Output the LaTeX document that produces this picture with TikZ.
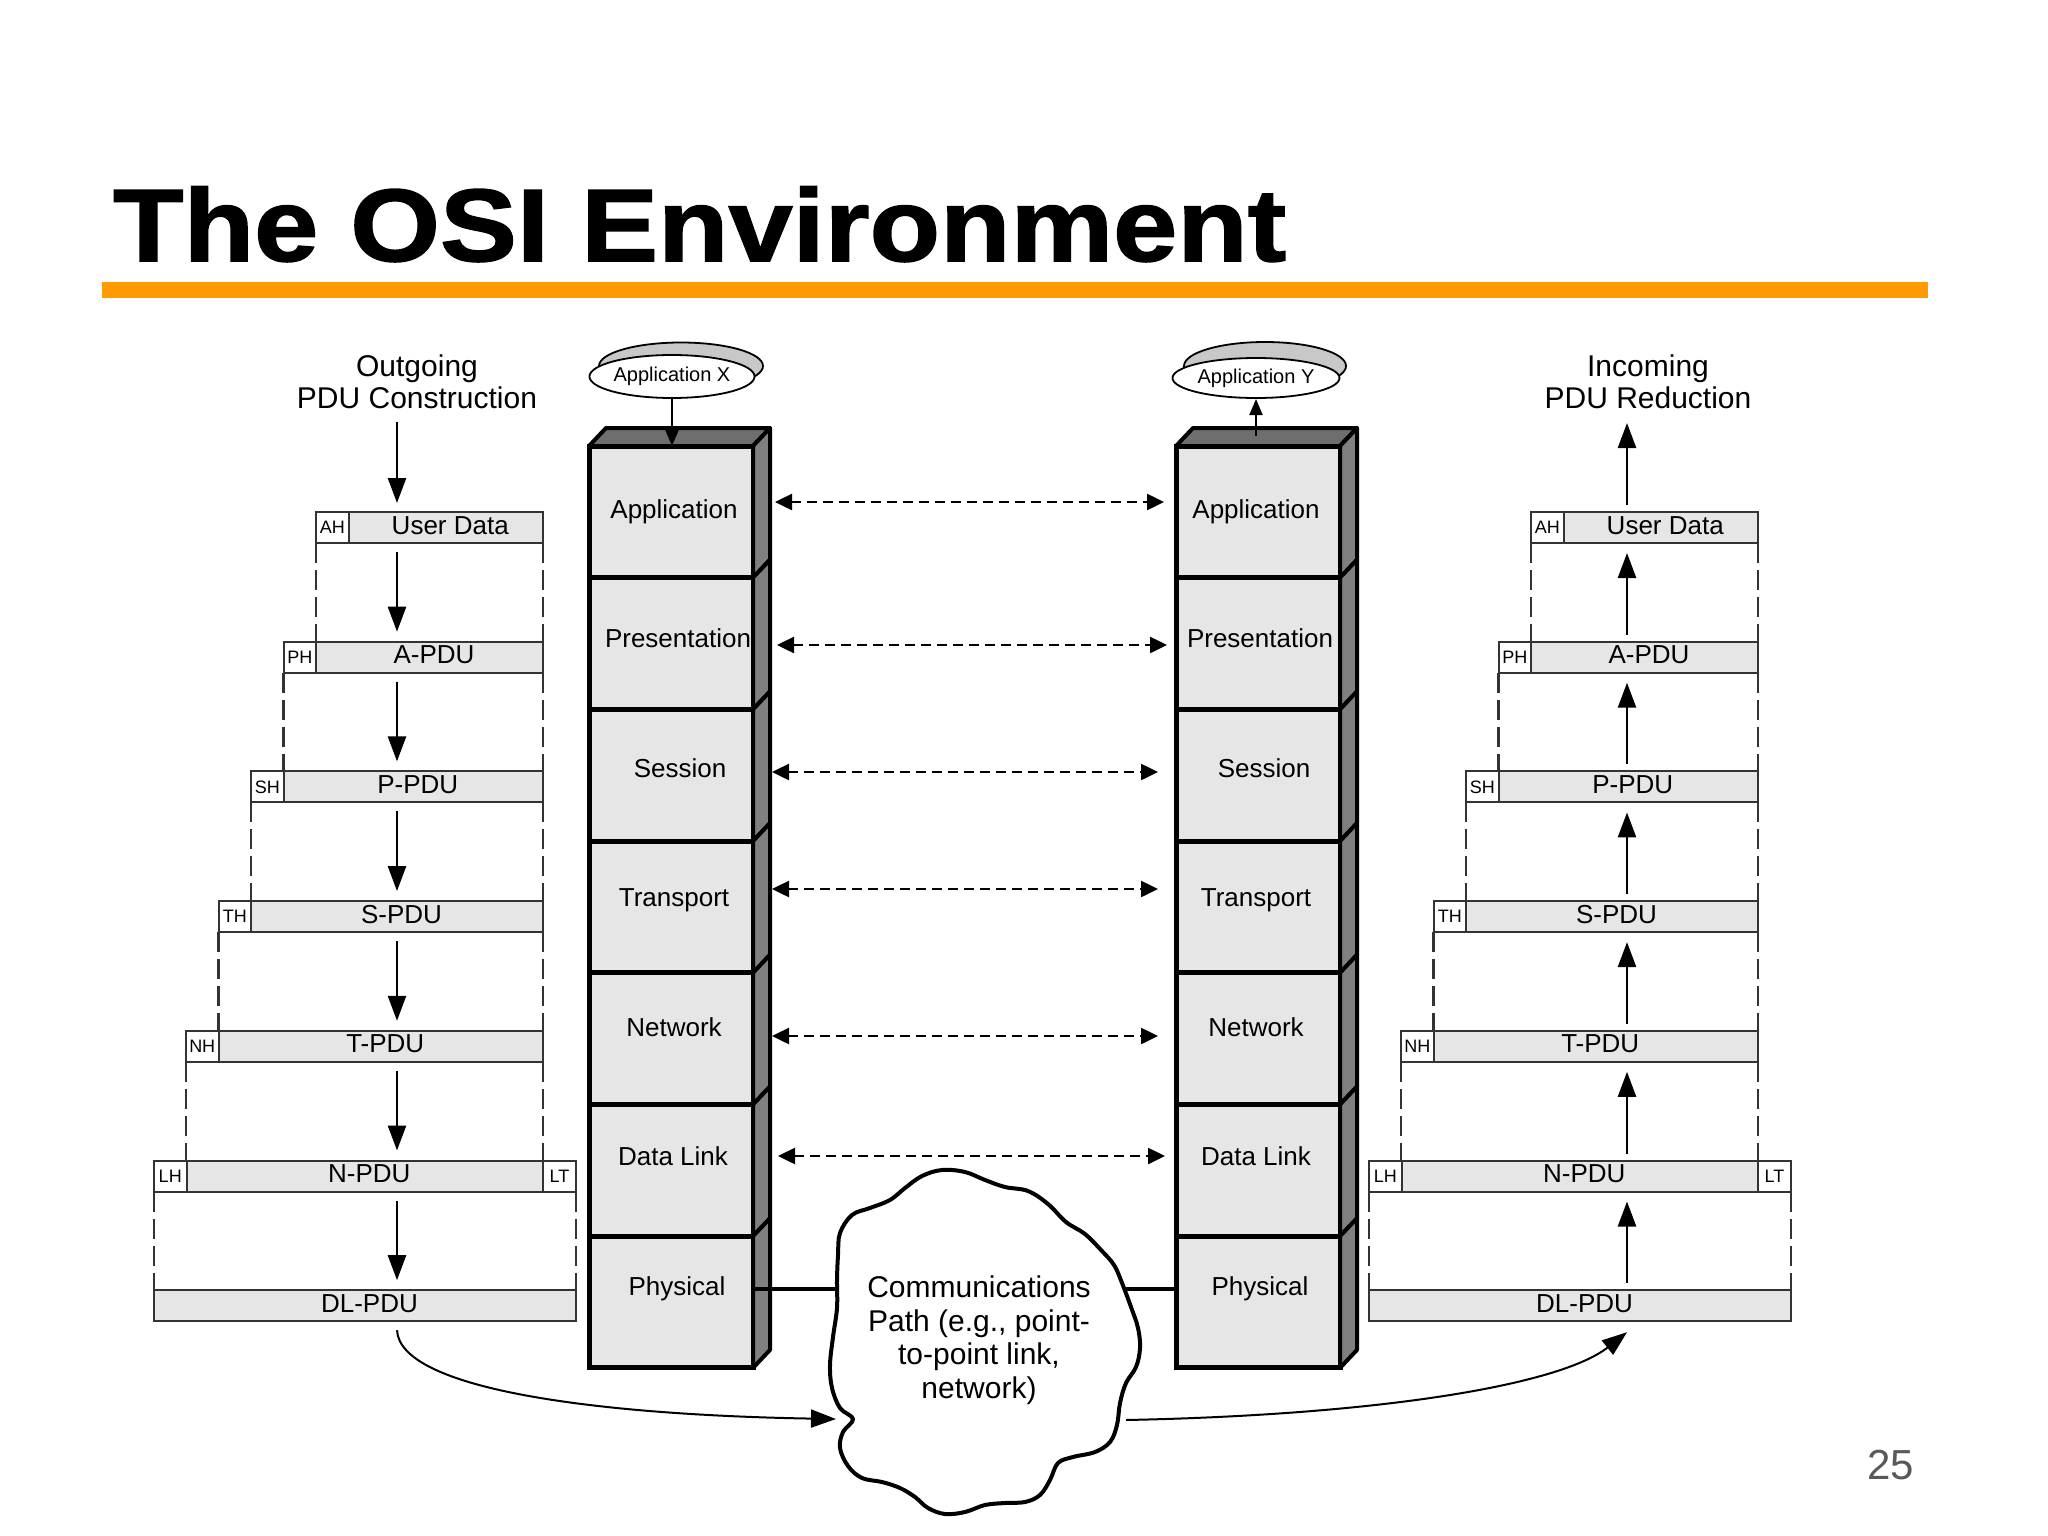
\documentclass[tikz,border=0pt]{standalone}
\usepackage{fontspec}
\setmainfont{Liberation Sans}
\newfontfamily\titlefont[FakeStretch=1.12,BoldFeatures={FakeBold=1.5}]{Liberation Sans}
\usetikzlibrary{arrows.meta,shapes.geometric,calc}
\definecolor{boxgray}{HTML}{E6E6E6}
\definecolor{sidegray}{HTML}{808080}
\definecolor{topgray}{HTML}{6E6E6E}
\definecolor{shadowgray}{HTML}{C8C8C8}
\definecolor{barorange}{HTML}{FF9A00}
\definecolor{pagegray}{HTML}{595959}
\definecolor{linegray}{HTML}{333333}
\tikzset{
  hdr/.style={draw=linegray, line width=2pt, fill=white, minimum height=31pt, inner sep=0pt, outer sep=0pt,
    anchor=north west, font=\fontsize{18}{18}\selectfont, text height=12.5pt, text depth=0pt},
  pdu/.style={draw=linegray, line width=2pt, fill=boxgray, minimum height=31pt, inner sep=0pt, outer sep=0pt,
    anchor=north west, font=\fontsize{26}{26}\selectfont, text height=18.6pt, text depth=5.5pt,
    execute at begin node=\hspace*{9pt}},
  guide/.style={draw=linegray, line width=2.2pt, dash pattern=on 20pt off 7pt},
  pduarr/.style={draw=black, line width=2.5pt, -{Triangle[length=25pt,width=18pt]}},
  curvearr/.style={draw=black, line width=2pt, -{Triangle[length=25pt,width=18pt]}},
  apparr/.style={draw=black, line width=2pt, -{Triangle[length=16pt,width=13pt]}},
  peerarr/.style={draw=black, line width=2.5pt, dash pattern=on 10pt off 6pt,
    {Triangle[length=17pt,width=16pt]}-{Triangle[length=17pt,width=16pt]}},
  layer/.style={draw=black, line width=5pt, fill=boxgray, minimum width=164pt, minimum height=131.7pt,
    inner sep=0pt, outer sep=0pt, anchor=north west},
  sideface/.style={draw=black, line width=4pt, fill=sidegray, line join=round},
  topface/.style={draw=black, line width=4pt, fill=topgray, line join=round},
  lname/.style={anchor=base, font=\fontsize{26}{26}\selectfont, inner sep=0pt},
  bigtext/.style={anchor=north, align=center, inner sep=0pt, font=\fontsize{30}{32}\selectfont},
  appell/.style={ellipse, draw=black, line width=1.8pt, inner sep=0pt, outer sep=0pt},
}
\begin{document}
\begin{tikzpicture}[x=1pt,y=-1pt]
\useasboundingbox (0,0) rectangle (2048,1536);
\fill[white] (0,0) rectangle (2048,1536);

% title
\node[anchor=base west, inner sep=0pt, font=\titlefont\bfseries\fontsize{103}{103}\selectfont] (title) at (113,261) {The OSI Environment};
\fill[barorange] (102,282) rectangle (1928,298);
\node[anchor=base east, inner sep=0pt, text=pagegray, font=\fontsize{42}{42}\selectfont] (page) at (1914,1479) {25};

% column coordinates
\coordinate (colL) at (397,0);
\coordinate (colR) at (1627,0);

% ---------------- left PDU construction ----------------
\node[bigtext] (outlbl) at (417,355) {Outgoing\\PDU Construction};
\node[hdr, minimum width=32.5pt] (lAH) at (316,512) {AH};
\node[pdu, minimum width=194.5pt] (lUD) at (348.5,512) {User Data};
\node[hdr, minimum width=32.5pt] (lPH) at (283.5,641.7) {PH};
\node[pdu, minimum width=227pt] (lAP) at (316,641.7) {A-PDU};
\node[hdr, minimum width=32.5pt] (lSH) at (251,771.4) {SH};
\node[pdu, minimum width=259.5pt] (lPP) at (283.5,771.4) {P-PDU};
\node[hdr, minimum width=32.5pt] (lTH) at (218.5,901.1) {TH};
\node[pdu, minimum width=292pt] (lSP) at (251,901.1) {S-PDU};
\node[hdr, minimum width=32.5pt] (lNH) at (186,1030.8) {NH};
\node[pdu, minimum width=324.5pt] (lTP) at (218.5,1030.8) {T-PDU};
\node[hdr, minimum width=32.5pt] (lLH) at (154,1160.5) {LH};
\node[pdu, minimum width=356.5pt] (lNP) at (186.5,1160.5) {N-PDU};
\node[hdr, minimum width=33pt] (lLT) at (543,1160.5) {LT};
\node[pdu, minimum width=422pt] (lDL) at (154,1290.2) {DL-PDU};

\draw[guide] (lAH.south west) -- (lAH.south west |- lPH.north);
\draw[guide] (lUD.south east) -- (lUD.south east |- lAP.north);
\draw[guide] (lPH.south west) -- (lPH.south west |- lSH.north);
\draw[guide] (lAP.south east) -- (lAP.south east |- lPP.north);
\draw[guide] (lSH.south west) -- (lSH.south west |- lTH.north);
\draw[guide] (lPP.south east) -- (lPP.south east |- lSP.north);
\draw[guide] (lTH.south west) -- (lTH.south west |- lNH.north);
\draw[guide] (lSP.south east) -- (lSP.south east |- lTP.north);
\draw[guide] (lNH.south west) -- (lNH.south west |- lLH.north);
\draw[guide] (lTP.south east) -- (lTP.south east |- lNP.north);
\draw[guide] (lLH.south west) -- (lLH.south west |- lDL.north);
\draw[guide] (lLT.south east) -- (lLT.south east |- lDL.north);

\coordinate (lStart) at (397,422);
\draw[pduarr, shorten >=9pt] (lStart) -- (lUD.north -| colL);
\draw[pduarr, shorten <=9pt, shorten >=10pt] (lUD.south -| colL) -- (lAP.north -| colL);
\draw[pduarr, shorten <=9pt, shorten >=10pt] (lAP.south -| colL) -- (lPP.north -| colL);
\draw[pduarr, shorten <=9pt, shorten >=10pt] (lPP.south -| colL) -- (lSP.north -| colL);
\draw[pduarr, shorten <=9pt, shorten >=10pt] (lSP.south -| colL) -- (lTP.north -| colL);
\draw[pduarr, shorten <=9pt, shorten >=10pt] (lTP.south -| colL) -- (lNP.north -| colL);
\draw[pduarr, shorten <=9pt, shorten >=10pt] (lNP.south -| colL) -- (lDL.north -| colL);

% ---------------- right PDU reduction ----------------
\node[bigtext] (inlbl) at (1648,355) {Incoming\\PDU Reduction};
\node[hdr, minimum width=32.5pt] (rAH) at (1531,512) {AH};
\node[pdu, minimum width=194.5pt] (rUD) at (1563.5,512) {User Data};
\node[hdr, minimum width=32.5pt] (rPH) at (1498.5,641.7) {PH};
\node[pdu, minimum width=227pt] (rAP) at (1531,641.7) {A-PDU};
\node[hdr, minimum width=32.5pt] (rSH) at (1466,771.4) {SH};
\node[pdu, minimum width=259.5pt] (rPP) at (1498.5,771.4) {P-PDU};
\node[hdr, minimum width=32.5pt] (rTH) at (1433.5,901.1) {TH};
\node[pdu, minimum width=292pt] (rSP) at (1466,901.1) {S-PDU};
\node[hdr, minimum width=32.5pt] (rNH) at (1401,1030.8) {NH};
\node[pdu, minimum width=324.5pt] (rTP) at (1433.5,1030.8) {T-PDU};
\node[hdr, minimum width=32.5pt] (rLH) at (1369,1160.5) {LH};
\node[pdu, minimum width=356.5pt] (rNP) at (1401.5,1160.5) {N-PDU};
\node[hdr, minimum width=33pt] (rLT) at (1758,1160.5) {LT};
\node[pdu, minimum width=422pt] (rDL) at (1369,1290.2) {DL-PDU};

\draw[guide] (rAH.south west) -- (rAH.south west |- rPH.north);
\draw[guide] (rUD.south east) -- (rUD.south east |- rAP.north);
\draw[guide] (rPH.south west) -- (rPH.south west |- rSH.north);
\draw[guide] (rAP.south east) -- (rAP.south east |- rPP.north);
\draw[guide] (rSH.south west) -- (rSH.south west |- rTH.north);
\draw[guide] (rPP.south east) -- (rPP.south east |- rSP.north);
\draw[guide] (rTH.south west) -- (rTH.south west |- rNH.north);
\draw[guide] (rSP.south east) -- (rSP.south east |- rTP.north);
\draw[guide] (rNH.south west) -- (rNH.south west |- rLH.north);
\draw[guide] (rTP.south east) -- (rTP.south east |- rNP.north);
\draw[guide] (rLH.south west) -- (rLH.south west |- rDL.north);
\draw[guide] (rLT.south east) -- (rLT.south east |- rDL.north);

\coordinate (rEnd) at (1627,423);
\draw[pduarr, shorten <=7pt] (rUD.north -| colR) -- (rEnd);
\draw[pduarr, shorten <=7pt, shorten >=10pt] (rAP.north -| colR) -- (rUD.south -| colR);
\draw[pduarr, shorten <=7pt, shorten >=10pt] (rPP.north -| colR) -- (rAP.south -| colR);
\draw[pduarr, shorten <=7pt, shorten >=10pt] (rSP.north -| colR) -- (rPP.south -| colR);
\draw[pduarr, shorten <=7pt, shorten >=10pt] (rTP.north -| colR) -- (rSP.south -| colR);
\draw[pduarr, shorten <=7pt, shorten >=10pt] (rNP.north -| colR) -- (rTP.south -| colR);
\draw[pduarr, shorten <=7pt, shorten >=10pt] (rDL.north -| colR) -- (rNP.south -| colR);

% ---------------- left stack ----------------
\node[layer] (lL1) at (589,446) {};
\node[layer] (lL2) at (589,577.7) {};
\node[layer] (lL3) at (589,709.4) {};
\node[layer] (lL4) at (589,841.1) {};
\node[layer] (lL5) at (589,972.8) {};
\node[layer] (lL6) at (589,1104.5) {};
\node[layer] (lL7) at (589,1236.2) {};
\draw[topface] (lL1.north west) -- ++(17,-18) -- ++(164,0) -- (lL1.north east) -- cycle;
\foreach \n in {lL1,lL2,lL3,lL4,lL5,lL6,lL7}
  \draw[sideface] (\n.north east) -- ++(17,-18) -- ++(0,131.7) -- (\n.south east) -- cycle;
\node[lname] (lT1) at (674,518) {Application};
\node[lname] (lT2) at (678,647.5) {Presentation};
\node[lname] (lT3) at (680,777) {Session};
\node[lname] (lT4) at (674,906.5) {Transport};
\node[lname] (lT5) at (674,1036) {Network};
\node[lname] (lT6) at (673,1165.5) {Data Link};
\node[lname] (lT7) at (677,1295) {Physical};

% ---------------- right stack ----------------
\node[layer] (rL1) at (1176,446) {};
\node[layer] (rL2) at (1176,577.7) {};
\node[layer] (rL3) at (1176,709.4) {};
\node[layer] (rL4) at (1176,841.1) {};
\node[layer] (rL5) at (1176,972.8) {};
\node[layer] (rL6) at (1176,1104.5) {};
\node[layer] (rL7) at (1176,1236.2) {};
\draw[topface] (rL1.north west) -- ++(17,-18) -- ++(164,0) -- (rL1.north east) -- cycle;
\foreach \n in {rL1,rL2,rL3,rL4,rL5,rL6,rL7}
  \draw[sideface] (\n.north east) -- ++(17,-18) -- ++(0,131.7) -- (\n.south east) -- cycle;
\node[lname] (rT1) at (1256,518) {Application};
\node[lname] (rT2) at (1260,647.5) {Presentation};
\node[lname] (rT3) at (1264,777) {Session};
\node[lname] (rT4) at (1256,906.5) {Transport};
\node[lname] (rT5) at (1256,1036) {Network};
\node[lname] (rT6) at (1256,1165.5) {Data Link};
\node[lname] (rT7) at (1260,1295) {Physical};

% ---------------- applications ----------------
\node[appell, fill=shadowgray, minimum width=164pt, minimum height=47pt] (appxs) at (681,366) {};
\node[appell, fill=white, minimum width=162pt, minimum height=43pt, font=\fontsize{20}{20}\selectfont] (appx) at (672,376.5) {Application X};
\node[appell, fill=shadowgray, minimum width=162pt, minimum height=48pt] (appys) at (1265,366) {};
\node[appell, fill=white, minimum width=167pt, minimum height=40pt, font=\fontsize{20}{20}\selectfont] (appy) at (1256,378) {Application Y};
\draw[apparr] (appx.south) -- (lL1.north -| appx.south);
\draw[apparr, shorten >=1pt] ($(rL1.north -| appy.south)+(0,-10)$) -- (appy.south);

% ---------------- peer protocol arrows ----------------
\coordinate (pA1) at (775,502);   \coordinate (pA2) at (1164,502);
\coordinate (pP1) at (777,645);   \coordinate (pP2) at (1167,645);
\coordinate (pS1) at (772,772);   \coordinate (pS2) at (1158,772);
\coordinate (pT1) at (772,889);   \coordinate (pT2) at (1158,889);
\coordinate (pN1) at (772,1036);  \coordinate (pN2) at (1158,1036);
\coordinate (pD1) at (778,1156);  \coordinate (pD2) at (1165,1156);
\draw[peerarr] (pA1) -- (pA2);
\draw[peerarr] (pP1) -- (pP2);
\draw[peerarr] (pS1) -- (pS2);
\draw[peerarr] (pT1) -- (pT2);
\draw[peerarr] (pN1) -- (pN2);
\draw[peerarr] (pD1) -- (pD2);

% ---------------- cloud ----------------
\draw[line width=4pt, fill=white, line join=round] plot[smooth cycle, tension=0.6] coordinates {
 (840,1233) (852,1215) (870,1208) (890,1200) (905,1188) (922,1176) (942,1170) (965,1172)
 (985,1180) (1005,1187) (1028,1191) (1048,1204) (1066,1222) (1085,1234) (1101,1250) (1114,1265)
 (1122,1283) (1131,1307) (1138,1328) (1140,1348) (1136,1367) (1126,1383) (1120,1403) (1117,1425)
 (1110,1442) (1095,1452) (1073,1457) (1058,1463) (1050,1480) (1040,1495) (1025,1502) (1005,1503)
 (985,1505) (965,1512) (945,1514) (928,1508) (915,1497) (900,1488) (882,1482) (862,1478)
 (848,1466) (840,1448) (843,1432) (853,1419) (840,1408) (832,1388) (830,1365) (833,1337)
 (837,1308) (837,1280) (838,1255)};
\node[anchor=north, align=center, inner sep=0pt, font=\fontsize{30}{33.5}\selectfont] (cloudtxt) at (979,1276)
  {Communications\\Path (e.g., point-\\to-point link,\\network)};

% physical links
\coordinate (physL) at (838,1289);
\coordinate (physR) at (1124,1289);
\draw[line width=4.5pt] (physL -| lL7.east) -- (physL);
\draw[line width=4.5pt] (physR) -- (physR -| rL7.west);

% bottom curves
\coordinate (cloudL) at (836,1419);
\coordinate (cloudR) at (1126,1420);
\draw[curvearr] ($(lDL.south -| colL)+(0,9)$) .. controls (400,1390) and (600,1415) .. (cloudL);
\draw[curvearr] (cloudR) .. controls (1380,1415) and (1560,1385) .. ($(rDL.south -| colR)+(0,11)$);
\end{tikzpicture}
\end{document}
